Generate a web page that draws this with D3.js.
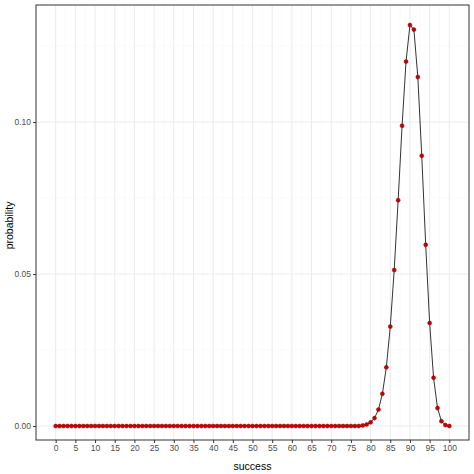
<!DOCTYPE html>
<html>
<head>
<script src="https://cdn.jsdelivr.net/npm/d3@7"></script>
<style>
  body { margin: 0; background: #fff; }
  text { font-family: "Liberation Sans", Arial, sans-serif; }
</style>
</head>
<body>
<div id="container"></div>
<script>
// probabilities, k = 0..100 (all below 78 are ~0)
var successes = d3.range(0, 101);
var tail = [0.0002, 0.0005, 0.0012, 0.0026, 0.0054, 0.0106, 0.0193, 0.0327, 0.0513, 0.0743,
            0.0988, 0.1199, 0.1319, 0.1304, 0.1148, 0.0889, 0.0596, 0.0339, 0.0159, 0.0059,
            0.0016, 0.0003, 0.0000];
var probability = new Array(78).fill(0).concat(tail);
var xTicks = d3.range(0, 101, 5);
var yTicks = [0, 0.05, 0.10];

var W = 474, H = 474;
var margin = {top: 5, right: 5, bottom: 34, left: 36};

var svg = d3.select("#container").append("svg")
    .attr("width", W).attr("height", H);

var x = d3.scaleLinear().domain([-5, 105]).range([margin.left, W - margin.right]);
var y = d3.scaleLinear().domain([-0.0046, 0.1385]).range([H - margin.bottom, margin.top]);

var g = svg.append("g");

// minor grid
g.selectAll(".vminor").data(d3.range(2.5, 100, 5)).enter().append("line")
    .attr("x1", d => x(d)).attr("x2", d => x(d))
    .attr("y1", y.range()[0]).attr("y2", y.range()[1])
    .style("stroke", "#f4f4f4").style("stroke-width", 0.5);
g.selectAll(".hminor").data([0.025, 0.075, 0.125]).enter().append("line")
    .attr("y1", d => y(d)).attr("y2", d => y(d))
    .attr("x1", x.range()[0]).attr("x2", x.range()[1])
    .style("stroke", "#f4f4f4").style("stroke-width", 0.5);
// major grid
g.selectAll(".vmajor").data(xTicks).enter().append("line")
    .attr("x1", d => x(d)).attr("x2", d => x(d))
    .attr("y1", y.range()[0]).attr("y2", y.range()[1])
    .style("stroke", "#ebebeb").style("stroke-width", 1);
g.selectAll(".hmajor").data(yTicks).enter().append("line")
    .attr("y1", d => y(d)).attr("y2", d => y(d))
    .attr("x1", x.range()[0]).attr("x2", x.range()[1])
    .style("stroke", "#ebebeb").style("stroke-width", 1);

// line + points
var line = d3.line().x((d, i) => x(successes[i])).y(d => y(d));
svg.append("path").datum(probability)
    .attr("d", line).style("fill", "none").style("stroke", "#000").style("stroke-width", 0.8);
svg.selectAll("circle").data(probability).enter().append("circle")
    .attr("cx", (d, i) => x(successes[i])).attr("cy", d => y(d)).attr("r", 2)
    .style("fill", "#cc0000").style("stroke", "#8b0000").style("stroke-width", 0.5);

// panel border
svg.append("rect")
    .attr("x", margin.left).attr("y", margin.top)
    .attr("width", W - margin.left - margin.right)
    .attr("height", H - margin.top - margin.bottom)
    .style("fill", "none").style("stroke", "#333").style("stroke-width", 1);

// axes
var xAxis = svg.append("g")
    .attr("transform", "translate(0," + (H - margin.bottom) + ")")
    .call(d3.axisBottom(x).tickValues(xTicks).tickSize(3).tickPadding(2));
var yAxis = svg.append("g")
    .attr("transform", "translate(" + margin.left + ",0)")
    .call(d3.axisLeft(y).tickValues(yTicks).tickFormat(d3.format(".2f")).tickSize(3).tickPadding(2));
[xAxis, yAxis].forEach(a => {
  a.select(".domain").remove();
  a.selectAll(".tick line").style("stroke", "#333");
  a.selectAll(".tick text").style("fill", "#4d4d4d").style("font-size", "8.5px");
});

svg.append("text").attr("x", x(50)).attr("y", H - 4)
    .attr("text-anchor", "middle").style("font-size", "10.5px").text("success");
svg.append("text").attr("transform", "translate(13," + y(0.066) + ") rotate(-90)")
    .attr("text-anchor", "middle").style("font-size", "10.5px").text("probability");
</script>
</body>
</html>
